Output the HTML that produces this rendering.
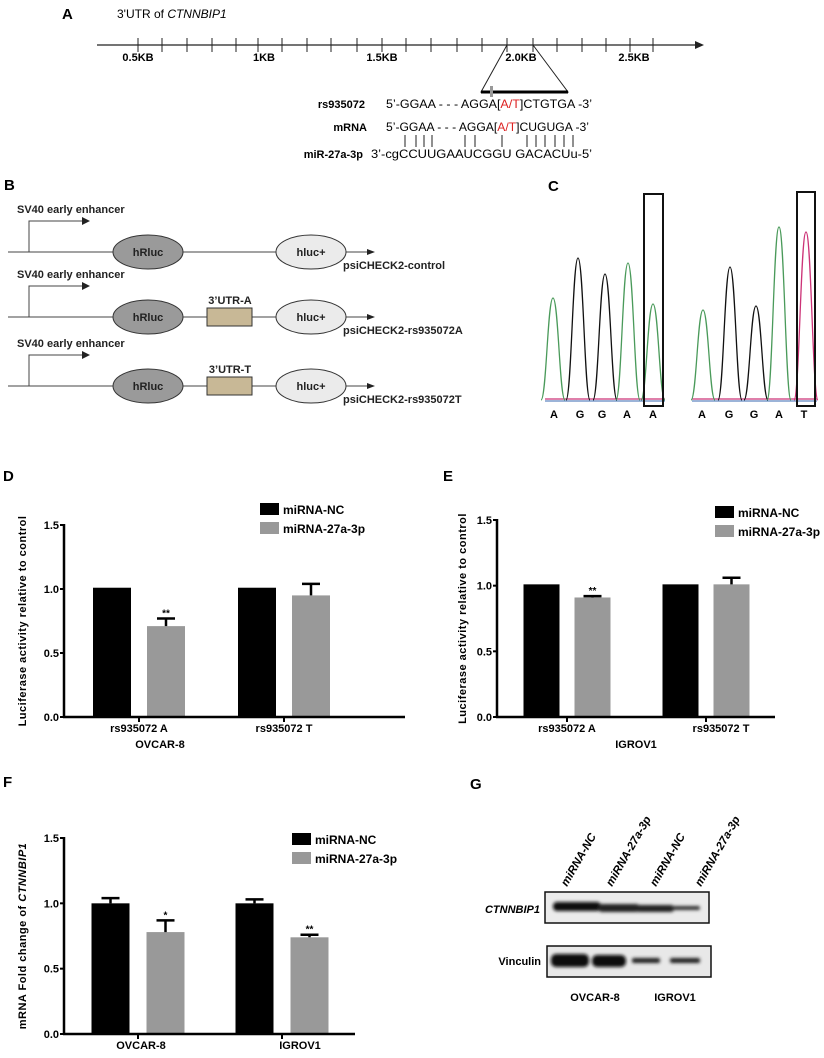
<!DOCTYPE html>
<html><head><meta charset="utf-8"><style>
html,body{margin:0;padding:0;background:#fff}
svg{display:block;font-family:"Liberation Sans",Arial,sans-serif}
.b{font-weight:bold}
</style></head><body>
<svg id="fig" width="824" height="1058" viewBox="0 0 824 1058">
<!-- Panel A -->
<g>
<text x="62" y="19" font-size="15" class="b">A</text>
<text x="117" y="18" font-size="12">3'UTR of <tspan font-style="italic">CTNNBIP1</tspan></text>
<line x1="97" y1="45" x2="698" y2="45" stroke="#222" stroke-width="1.2"/>
<polygon points="704,45 695,41 695,49" fill="#222"/>
<g id="kbTicks"></g>
<text x="138" y="61" font-size="11" class="b" text-anchor="middle">0.5KB</text>
<text x="264" y="61" font-size="11" class="b" text-anchor="middle">1KB</text>
<text x="382" y="61" font-size="11" class="b" text-anchor="middle">1.5KB</text>
<text x="521" y="61" font-size="11" class="b" text-anchor="middle">2.0KB</text>
<text x="634" y="61" font-size="11" class="b" text-anchor="middle">2.5KB</text>
<polyline points="507,45 481,92 568,92 533,45" fill="none" stroke="#222" stroke-width="1"/>
<line x1="481" y1="92" x2="568" y2="92" stroke="#000" stroke-width="3"/>
<rect x="490" y="86" width="3" height="11" fill="#999"/>
<text x="365" y="108" font-size="11" class="b" text-anchor="end">rs935072</text>
<text x="386" y="108" font-size="12" textLength="206" lengthAdjust="spacingAndGlyphs">5’-GGAA - - - AGGA[<tspan fill="#d22">A/T</tspan>]CTGTGA -3’</text>
<text x="367" y="131" font-size="11" class="b" text-anchor="end">mRNA</text>
<text x="386" y="131" font-size="12" textLength="203" lengthAdjust="spacingAndGlyphs">5’-GGAA - - - AGGA[<tspan fill="#d22">A/T</tspan>]CUGUGA -3’</text>
<g id="pairs"></g>
<text x="363" y="158" font-size="11" class="b" text-anchor="end">miR-27a-3p</text>
<text x="371" y="158" font-size="12" textLength="221" lengthAdjust="spacingAndGlyphs">3’-cgCCUUGAAUCGGU       GACACUu-5’</text>
</g>

<!-- Panel B -->
<g font-size="11">
<text x="4" y="190" font-size="15" class="b">B</text>
<g id="constructs"></g>
</g>

<!-- Panel C -->
<g>
<text x="548" y="191" font-size="15" class="b">C</text>
<g id="chrom"></g>
</g>

<!-- Charts -->
<g id="chartD"></g>
<g id="chartE"></g>
<g id="chartF"></g>

<!-- Panel G -->
<g>
<text x="470" y="789" font-size="15" class="b">G</text>
<text transform="translate(567,887) rotate(-60)" font-size="11.5" font-style="italic" class="b">miRNA-NC</text>
<text transform="translate(612,887) rotate(-60)" font-size="11.5" font-style="italic" class="b">miRNA-27a-3p</text>
<text transform="translate(656,887) rotate(-60)" font-size="11.5" font-style="italic" class="b">miRNA-NC</text>
<text transform="translate(701,887) rotate(-60)" font-size="11.5" font-style="italic" class="b">miRNA-27a-3p</text>
<defs>
<filter id="blur" x="-20%" y="-50%" width="140%" height="200%"><feGaussianBlur stdDeviation="1.6"/></filter>
</defs>
<rect x="545" y="892" width="164" height="31" fill="#ebebeb" stroke="#111" stroke-width="1.5"/>
<g filter="url(#blur)">
<rect x="553" y="902" width="48" height="9" rx="4" fill="#111"/>
<rect x="598" y="904" width="42" height="8" rx="4" fill="#222"/>
<rect x="636" y="905" width="38" height="7" rx="3" fill="#222"/>
<rect x="672" y="906" width="28" height="4" rx="2" fill="#333"/>
</g>
<text x="540" y="913" font-size="11" font-style="italic" class="b" text-anchor="end">CTNNBIP1</text>
<rect x="547" y="946" width="164" height="31" fill="#e8e8e8" stroke="#111" stroke-width="1.5"/>
<g filter="url(#blur)">
<rect x="551" y="954" width="38" height="13" rx="5" fill="#111"/>
<rect x="592" y="955" width="34" height="12" rx="5" fill="#111"/>
<rect x="632" y="958" width="28" height="5" rx="2" fill="#222"/>
<rect x="670" y="958" width="30" height="5" rx="2" fill="#222"/>
</g>
<text x="541" y="965" font-size="11" class="b" text-anchor="end">Vinculin</text>
<text x="595" y="1001" font-size="11" class="b" text-anchor="middle">OVCAR-8</text>
<text x="675" y="1001" font-size="11" class="b" text-anchor="middle">IGROV1</text>
</g>
</svg>
<script>
const NS='http://www.w3.org/2000/svg';
function mk(tag,attrs,parent){const e=document.createElementNS(NS,tag);for(const k in attrs)e.setAttribute(k,attrs[k]);if(parent)parent.appendChild(e);return e;}

// Panel A ticks
const kbTickX=[138,162,187,212,236,258,282,307,331,357,382,406,431,457,482,507,533,557,582,606,630,653];
const gT=document.getElementById('kbTicks');
kbTickX.forEach(x=>{const l=mk('line',{x1:x,y1:38,x2:x,y2:52,stroke:'#222','stroke-width':1},gT);

});
const pairX=[405,416,424,432,465,475,502,527,536,545,555,564,573];
const gP=document.getElementById('pairs');
pairX.forEach(x=>{const l=mk('line',{x1:x,y1:135,x2:x,y2:147,stroke:'#222','stroke-width':1},gP);

});

// Panel B constructs
const rows=[{y:252,utr:null,name:'psiCHECK2-control'},{y:317,utr:'3’UTR-A',name:'psiCHECK2-rs935072A'},{y:386,utr:'3’UTR-T',name:'psiCHECK2-rs935072T'}];
const gB=document.getElementById('constructs');
rows.forEach((r,i)=>{
 const g=mk('g',{},gB);
 
 
 let t=mk('text',{x:17,y:r.y-39,'font-size':11,'font-weight':'bold',fill:'#222'},g);t.textContent='SV40 early enhancer';
 
 
 mk('line',{x1:8,y1:r.y,x2:368,y2:r.y,stroke:'#444','stroke-width':1},g);
 mk('polygon',{points:`375,${r.y} 367,${r.y-3} 367,${r.y+3}`,fill:'#222'},g);
 mk('polyline',{points:`29,${r.y} 29,${r.y-31} 84,${r.y-31}`,fill:'none',stroke:'#444','stroke-width':1},g);
 mk('polygon',{points:`90,${r.y-31} 82,${r.y-35} 82,${r.y-27}`,fill:'#222'},g);
 const e1=mk('ellipse',{cx:148,cy:r.y,rx:35,ry:17,fill:'#9a9a9a',stroke:'#333','stroke-width':1},g);
 
 
 t=mk('text',{x:148,y:r.y+4,'font-size':11,'font-weight':'bold','text-anchor':'middle',fill:'#222'},g);t.textContent='hRluc';
 const e2=mk('ellipse',{cx:311,cy:r.y,rx:35,ry:17,fill:'#ebebeb',stroke:'#333','stroke-width':1},g);
 
 
 t=mk('text',{x:311,y:r.y+4,'font-size':11,'font-weight':'bold','text-anchor':'middle',fill:'#222'},g);t.textContent='hluc+';
 if(r.utr){const b=mk('rect',{x:207,y:r.y-9,width:45,height:18,fill:'#c8b896',stroke:'#333','stroke-width':1},g);
 
 
 t=mk('text',{x:230,y:r.y-13,'font-size':11,'font-weight':'bold','text-anchor':'middle',fill:'#222'},g);t.textContent=r.utr;}
 t=mk('text',{x:343,y:r.y+17,'font-size':11,'font-weight':'bold',fill:'#222'},g);t.textContent=r.name;
 
 
});

// Panel C chromatogram
const chromBase=400;
const peaksL=[{x:553,h:298,c:'#4a9a5a'},{x:578,h:258,c:'#111'},{x:605,h:274,c:'#111'},{x:628,h:263,c:'#4a9a5a'},{x:653,h:304,c:'#4a9a5a'}];
const peaksR=[{x:703,h:310,c:'#4a9a5a'},{x:730,h:267,c:'#111'},{x:756,h:306,c:'#111'},{x:779,h:227,c:'#4a9a5a'},{x:806,h:232,c:'#cc3377'}];
const basesL=['A','G','G','A','A'], basesR=['A','G','G','A','T'];
const baseXL=[554,580,602,627,653], baseXR=[702,729,754,779,804];
const gC=document.getElementById('chrom');
function drawPeaks(peaks,x0,x1){
 mk('line',{x1:x0,y1:chromBase-1,x2:x1,y2:chromBase-1,stroke:'#cc3377','stroke-width':1.3},gC);
 mk('line',{x1:x0,y1:chromBase+1,x2:x1,y2:chromBase+1,stroke:'#3a6ab0','stroke-width':1},gC);
 peaks.forEach(p=>{
  const w=12;
  const path=mk('path',{d:`M${p.x-w},${chromBase} C${p.x-w*0.55},${chromBase} ${p.x-w*0.45},${p.h} ${p.x},${p.h} C${p.x+w*0.45},${p.h} ${p.x+w*0.55},${chromBase} ${p.x+w},${chromBase}`,fill:'none',stroke:p.c,'stroke-width':1.3},gC);
  
  
 });
}
drawPeaks(peaksL,545,665);
drawPeaks(peaksR,692,817);
[[basesL,baseXL],[basesR,baseXR]].forEach(([b,xs])=>b.forEach((s,i)=>{const t=mk('text',{x:xs[i],y:418,'font-size':11,'font-weight':'bold','text-anchor':'middle'},gC);t.textContent=s;
 
 }));
let bx=mk('rect',{x:644,y:194,width:19,height:212,fill:'none',stroke:'#111','stroke-width':2},gC);


bx=mk('rect',{x:797,y:192,width:18,height:214,fill:'none',stroke:'#111','stroke-width':2},gC);



// Bar charts data
const yTicks=[0,0.5,1.0,1.5];
const yTickLabels=['0.0','0.5','1.0','1.5'];
const seriesNames=['miRNA-NC','miRNA-27a-3p'];
const dCats=['rs935072  A','rs935072  T'];
const dNC=[1.01,1.01], dNCerr=[0,0];
const d27=[0.71,0.95], d27err=[0.06,0.09];
const dSig=['**',''];
const eCats=['rs935072 A','rs935072  T'];
const eNC=[1.01,1.01], eNCerr=[0,0];
const e27=[0.91,1.01], e27err=[0.01,0.05];
const eSig=['**',''];
const fCats=['OVCAR-8','IGROV1'];
const fNC=[1.0,1.0], fNCerr=[0.04,0.03];
const f27=[0.78,0.74], f27err=[0.09,0.02];
const fSig=['*','**'];

function barChart(cfg){
 const g=document.getElementById(cfg.id);
 const yS=v=>cfg.y0-v*(cfg.y0-cfg.y15)/1.5;
 let t=mk('text',{x:cfg.labelX,y:cfg.labelY,'font-size':15,'font-weight':'bold'},g);t.textContent=cfg.letter;
 
 
 cfg.tickX.forEach((cx,i)=>{
  [[cfg.nc,cfg.ncErr,'#000',-1],[cfg.s27,cfg.s27Err,'#999',1]].forEach(([vals,errs,col,side],si)=>{
   const bxc=cx+side*cfg.off, v=vals[i];
   const r=mk('rect',{x:bxc-cfg.bw/2,y:yS(v),width:cfg.bw,height:cfg.y0-yS(v),fill:col},g);
   
   
   if(errs[i]>0){
    const et=yS(v+errs[i]);
    const el=mk('path',{d:`M${bxc},${yS(v)} L${bxc},${et} M${bxc-9},${et} L${bxc+9},${et}`,stroke:'#000','stroke-width':2.5,fill:'none'},g);
    
    
   }
   if(si===1&&cfg.sig[i]){
    const st=mk('text',{x:bxc,y:yS(v+errs[i])-2,'font-size':10,'font-weight':'bold','text-anchor':'middle'},g);st.textContent=cfg.sig[i];
    
    
   }
  });
 });
 const ya=mk('line',{x1:cfg.ax,y1:yS(1.5)-1,x2:cfg.ax,y2:cfg.y0+1,stroke:'#000','stroke-width':2.5},g);
 
 
 const xa=mk('line',{x1:cfg.ax-1,y1:cfg.y0,x2:cfg.axEnd,y2:cfg.y0,stroke:'#000','stroke-width':2.5},g);
 
 
 yTicks.forEach((v,i)=>{
  mk('line',{x1:cfg.ax-4,y1:yS(v),x2:cfg.ax,y2:yS(v),stroke:'#000','stroke-width':2},g);
  const tl=mk('text',{x:cfg.ax-5,y:yS(v)+4,'font-size':11,'font-weight':'bold','text-anchor':'end'},g);tl.textContent=yTickLabels[i];
  
  
 });
 cfg.tickX.forEach((x,i)=>{
  mk('line',{x1:x,y1:cfg.y0,x2:x,y2:cfg.y0+5,stroke:'#000','stroke-width':2},g);
  const tl=mk('text',{x:cfg.catX[i],y:cfg.y0+15,'font-size':11,'font-weight':'bold','text-anchor':'middle'},g);tl.textContent=cfg.cats[i];
  
  
 });
 if(cfg.sub){const s=mk('text',{x:cfg.subX,y:cfg.y0+31,'font-size':11,'font-weight':'bold','text-anchor':'middle'},g);s.textContent=cfg.sub;
  
  }
 const yt=mk('text',{transform:`translate(${cfg.ytX},${(cfg.y0+yS(1.5))/2}) rotate(-90)`,'font-size':11,'font-weight':'bold','text-anchor':'middle','letter-spacing':'0.5'},g);
 yt.innerHTML=cfg.ytitle;
 
 
 seriesNames.forEach((n,i)=>{
  const ly=cfg.legY+i*19;
  const lr=mk('rect',{x:cfg.legX,y:ly,width:19,height:12,fill:i?'#999':'#000'},g);
  
  
  const lt=mk('text',{x:cfg.legX+23,y:ly+11,'font-size':12,'font-weight':'bold'},g);lt.textContent=n;
  
  
 });
}
barChart({id:'chartD',letter:'D',labelX:3,labelY:481,y0:717,y15:525,ax:64,axEnd:405,tickX:[139,284],catX:[139,284],off:27,bw:38,
 cats:dCats,nc:dNC,ncErr:dNCerr,s27:d27,s27Err:d27err,sig:dSig,sub:'OVCAR-8',subX:160,ytX:26,
 ytitle:'Luciferase activity relative to control',legX:260,legY:503});
barChart({id:'chartE',letter:'E',labelX:443,labelY:481,y0:717,y15:520,ax:497,axEnd:775,tickX:[567,706],catX:[567,721],off:25.5,bw:36,
 cats:eCats,nc:eNC,ncErr:eNCerr,s27:e27,s27Err:e27err,sig:eSig,sub:'IGROV1',subX:636,ytX:466,
 ytitle:'Luciferase activity relative to control',legX:715,legY:506});
barChart({id:'chartF',letter:'F',labelX:3,labelY:787,y0:1034,y15:838,ax:64,axEnd:355,tickX:[138,282],catX:[141,300],off:27.5,bw:38,
 cats:fCats,nc:fNC,ncErr:fNCerr,s27:f27,s27Err:f27err,sig:fSig,sub:'',ytX:26,
 ytitle:'mRNA Fold change of <tspan font-style="italic">CTNNBIP1</tspan>',legX:292,legY:833});
</script>
</body></html>
